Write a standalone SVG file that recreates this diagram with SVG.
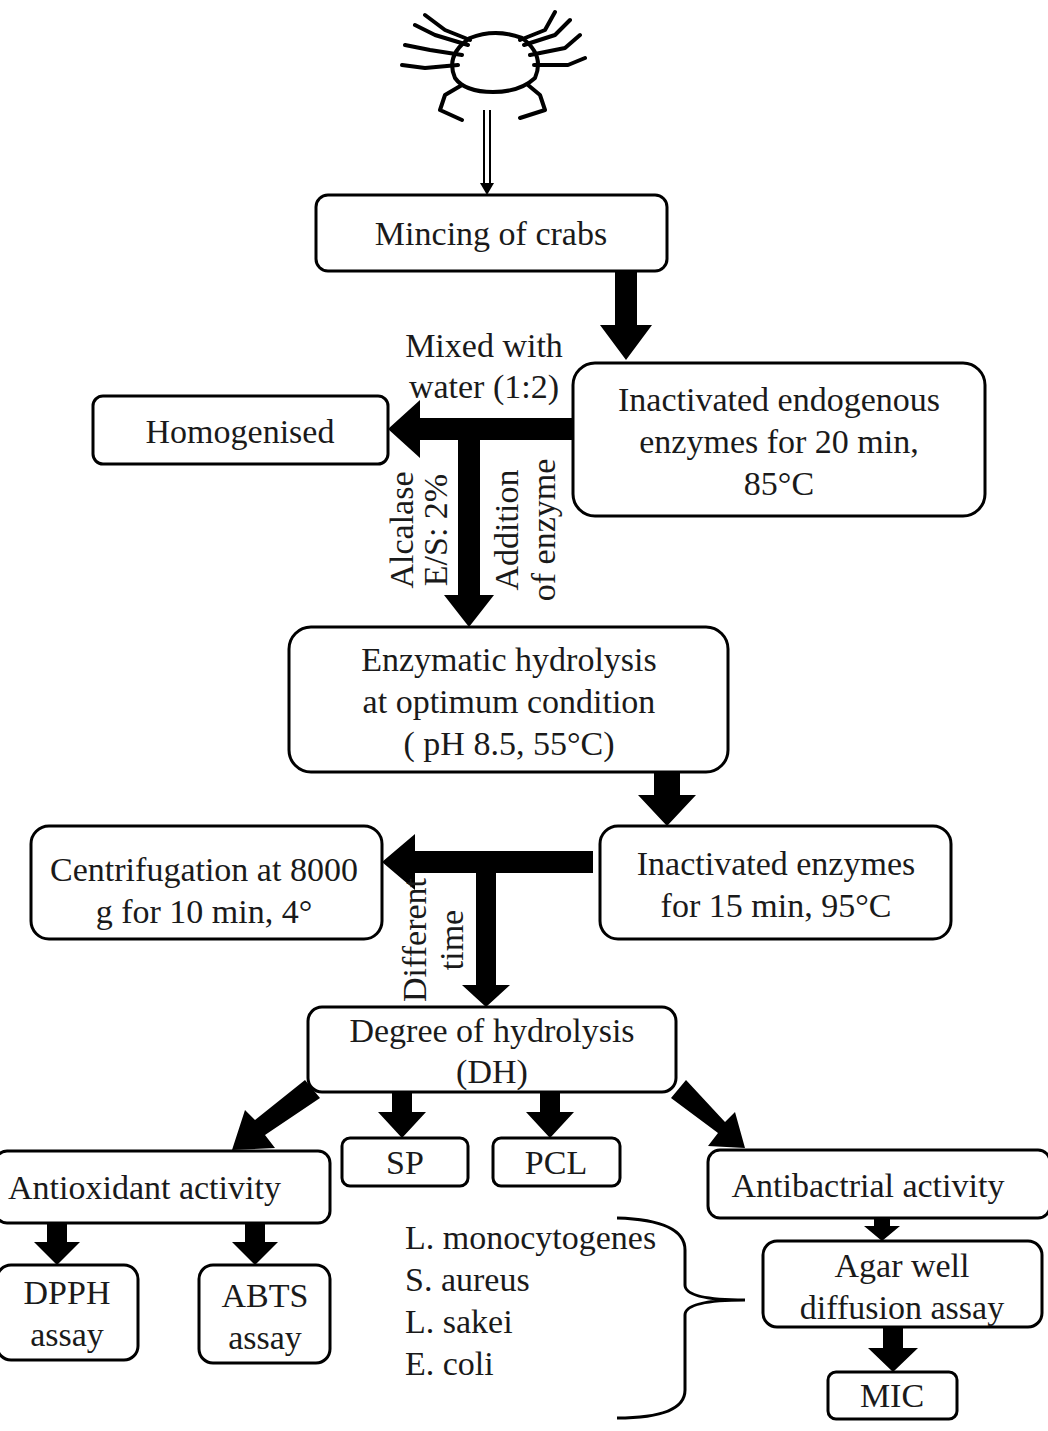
<svg xmlns="http://www.w3.org/2000/svg" width="1048" height="1431" viewBox="0 0 1048 1431">
<style>
.b{fill:#fff;stroke:#000;stroke-width:3}
text{font-family:"Liberation Serif","Times New Roman",serif;font-size:34px;fill:#1a1a1a}
.c{text-anchor:middle}
.k{fill:#000}
.cr{fill:none;stroke:#000;stroke-width:4;stroke-linecap:round;stroke-linejoin:round}
</style>
<rect width="1048" height="1431" fill="#fff"/>
<g id="crab">
<path class="cr" d="M470,38 Q495,28 522,38 Q545,55 535,78 Q520,92 493,92 Q465,92 455,78 Q445,55 470,38Z"/>
<path class="cr" d="M470,40 L445,30 L425,15 M468,45 L435,35 L415,25 M462,55 L430,50 L405,45 M458,65 L425,68 L402,65 M520,40 L545,30 L555,12 M524,45 L555,35 L570,20 M530,55 L565,48 L580,35 M534,65 L568,65 L585,58 M462,85 L445,95 L440,110 L462,120 M528,85 L540,95 L545,110 L520,118"/>
</g>
<g id="connectors">
<path d="M484,110 V186 M490,110 V186" stroke="#000" stroke-width="2"/>
<path class="k" d="M480,183 L494,183 L487,195Z"/>
<path class="k" d="M615,271 H637 V325 H652 L626,360 L600,325 H615Z"/>
<path class="k" d="M573,418 V440 H420 V458 L388,429 L420,400 V418Z"/>
<path class="k" d="M458,440 H480 V595 H494 L469,627 L444,595 H458Z"/>
<path class="k" d="M654,772 H680 V795 H696 L667,826 L638,795 H654Z"/>
<path class="k" d="M593,851 V873 H415 V890 L382,862 L415,834 V851Z"/>
<path class="k" d="M476,873 H496 V985 H510 L486,1007 L462,985 H476Z"/>
<path class="k" d="M305,1080 L320,1098 L265,1135 L275,1148 L232,1150 L245,1110 L255,1120Z"/>
<path class="k" d="M392,1092 H412 V1112 H426 L402,1138 L378,1112 H392Z"/>
<path class="k" d="M540,1092 H560 V1112 H574 L550,1138 L526,1112 H540Z"/>
<path class="k" d="M686,1080 L671,1098 L718,1133 L708,1146 L745,1148 L735,1112 L725,1122Z"/>
<path class="k" d="M47,1223 H67 V1242 H80 L57,1265 L34,1242 H47Z"/>
<path class="k" d="M245,1223 H265 V1242 H278 L255,1265 L232,1242 H245Z"/>
<path class="k" d="M874,1218 H890 V1226 H900 L882,1241 L864,1226 H874Z"/>
<path class="k" d="M883,1327 H903 V1348 H918 L893,1372 L868,1348 H883Z"/>
<path d="M617,1218 Q685,1220 685,1250 V1285 Q685,1300 745,1300 Q685,1300 685,1315 V1390 Q685,1418 617,1418" fill="none" stroke="#000" stroke-width="3"/>
</g>
<g id="n1"><rect class="b" x="316" y="195" width="351" height="76" rx="12"/><text class="c" x="491" y="245">Mincing of crabs</text></g>
<g id="n2"><rect class="b" x="573" y="363" width="412" height="153" rx="22"/><text class="c" x="779" y="411">Inactivated endogenous</text><text class="c" x="779" y="453">enzymes for 20 min,</text><text class="c" x="779" y="495">85°C</text></g>
<g id="n3"><rect class="b" x="93" y="396" width="295" height="68" rx="10"/><text class="c" x="240" y="443">Homogenised</text></g>
<g id="n4"><rect class="b" x="289" y="627" width="439" height="145" rx="22"/><text class="c" x="509" y="671">Enzymatic hydrolysis</text><text class="c" x="509" y="713">at optimum condition</text><text class="c" x="509" y="755">( pH 8.5, 55°C)</text></g>
<g id="n5"><rect class="b" x="600" y="826" width="351" height="113" rx="18"/><text class="c" x="776" y="875">Inactivated enzymes</text><text class="c" x="776" y="917">for 15 min, 95°C</text></g>
<g id="n6"><rect class="b" x="31" y="826" width="351" height="113" rx="18"/><text class="c" x="204" y="881">Centrifugation at 8000</text><text class="c" x="204" y="923">g for 10 min, 4°</text></g>
<g id="n7"><rect class="b" x="308" y="1007" width="368" height="85" rx="14"/><text class="c" x="492" y="1042">Degree of hydrolysis</text><text class="c" x="492" y="1083">(DH)</text></g>
<g id="n8"><rect class="b" x="-5" y="1151" width="335" height="72" rx="12"/><text x="8" y="1199">Antioxidant activity</text></g>
<g id="n9"><rect class="b" x="342" y="1138" width="126" height="48" rx="8"/><text class="c" x="405" y="1174">SP</text></g>
<g id="n10"><rect class="b" x="493" y="1138" width="127" height="48" rx="8"/><text class="c" x="556" y="1174">PCL</text></g>
<g id="n11"><rect class="b" x="708" y="1150" width="342" height="68" rx="12"/><text class="c" x="868" y="1197">Antibactrial activity</text></g>
<g id="n12"><rect class="b" x="-3" y="1265" width="141" height="95" rx="14"/><text class="c" x="67" y="1304">DPPH</text><text class="c" x="67" y="1346">assay</text></g>
<g id="n13"><rect class="b" x="199" y="1265" width="131" height="98" rx="14"/><text class="c" x="265" y="1307">ABTS</text><text class="c" x="265" y="1349">assay</text></g>
<g id="n14"><rect class="b" x="763" y="1241" width="279" height="86" rx="14"/><text class="c" x="902" y="1277">Agar well</text><text class="c" x="902" y="1319">diffusion assay</text></g>
<g id="n15"><rect class="b" x="828" y="1372" width="129" height="47" rx="8"/><text class="c" x="892" y="1407">MIC</text></g>
<g id="labels">
<text class="c" x="484" y="357" font-size="28">Mixed with</text>
<text class="c" x="484" y="398" font-size="28">water (1:2)</text>
<text class="c" font-size="28" transform="translate(413,530) rotate(-90)">Alcalase</text>
<text class="c" font-size="28" transform="translate(447,530) rotate(-90)">E/S: 2%</text>
<text class="c" font-size="28" transform="translate(518,530) rotate(-90)">Addition</text>
<text class="c" font-size="28" transform="translate(555,530) rotate(-90)">of enzyme</text>
<text class="c" font-size="28" transform="translate(426,940) rotate(-90)">Different</text>
<text class="c" font-size="28" transform="translate(463,940) rotate(-90)">time</text>
<text x="405" y="1249">L. monocytogenes</text>
<text x="405" y="1291">S. aureus</text>
<text x="405" y="1333">L. sakei</text>
<text x="405" y="1375">E. coli</text>
</g>
</svg>
